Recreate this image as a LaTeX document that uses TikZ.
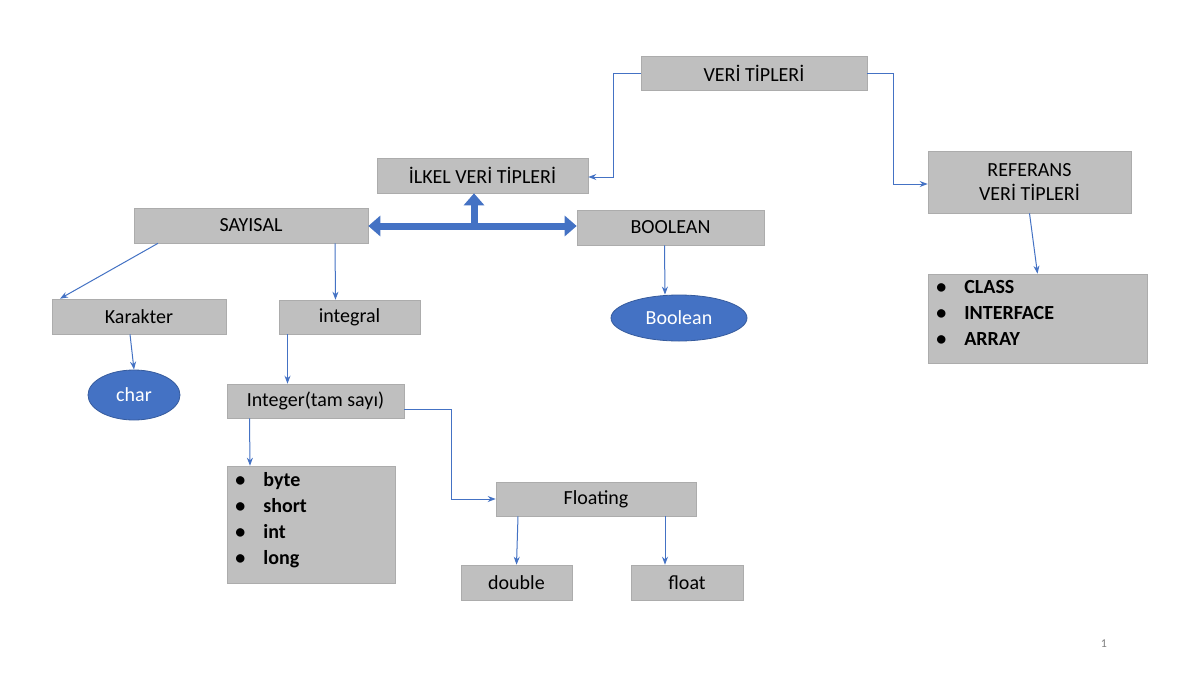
\documentclass[tikz,border=0pt]{standalone}
\usepackage{fontspec}
\setmainfont{Carlito}
\usetikzlibrary{arrows.meta,shapes.geometric}
\definecolor{bx}{HTML}{BFBFBF}
\definecolor{bl}{HTML}{4472C4}
\begin{document}
\begin{tikzpicture}[x=0.5pt,y=-0.5pt,
 box/.style={fill=bx,draw=bx!90!black,line width=0.3pt,inner sep=0pt,font=\fontsize{10}{12}\selectfont,align=center},
 ell/.style={ellipse,fill=bl,draw=bl!80!black,inner sep=0pt,text=white,font=\fontsize{10}{12}\selectfont},
 con/.style={draw=bl,line width=0.5pt,-{Stealth[length=4pt,width=3pt]}},
 lst/.style={font=\fontsize{10}{13}\selectfont\bfseries,align=left,anchor=north west,inner sep=0pt}]
\useasboundingbox (0,0) rectangle (1200,675);
\fill[white] (0,0) rectangle (1200,675);
\newcommand{\bx}[5]{\node[box,minimum width=#3*0.5pt,minimum height=#4*0.5pt] (#1) at (#2) {#5};}
\bx{veri}{754,73}{226}{34}{VERİ TİPLERİ}
\bx{ilkel}{482.5,175.5}{211}{35}{İLKEL VERİ TİPLERİ}
\bx{ref}{1029.5,182}{203}{62}{REFERANS\\VERİ TİPLERİ}
\bx{say}{251,225.5}{234}{35}{SAYISAL}
\bx{bool}{670.5,227.5}{187}{35}{BOOLEAN}
\bx{kar}{139,316.5}{174}{35}{Karakter}
\bx{intg}{349.5,317}{141}{34}{integral}
\bx{integer}{315.5,401}{177}{34}{Integer(tam sayı)}
\bx{blist}{311,524.5}{168}{117}{}
\bx{flo}{596,499}{200}{34}{Floating}
\bx{dbl}{516.5,582.5}{111}{35}{double}
\bx{flt}{687,582.5}{112}{35}{float}
\bx{clist}{1037.5,318.5}{219}{89}{}
\node[lst] (bt) at (235,472) {\textbullet\hspace{9pt}byte\\\textbullet\hspace{9pt}short\\\textbullet\hspace{9pt}int\\\textbullet\hspace{9pt}long};
\node[lst] (ct) at (936,280) {\textbullet\hspace{9pt}CLASS\\\textbullet\hspace{9pt}INTERFACE\\\textbullet\hspace{9pt}ARRAY};
\node[ell,minimum width=136*0.5pt,minimum height=46*0.5pt] (boo) at (679,318) {Boolean};
\node[ell,minimum width=92*0.5pt,minimum height=50*0.5pt] (chr) at (134,395) {char};
\node[font=\fontsize{6}{7}\selectfont,text=gray] (pg) at (1104,644) {1};
\coordinate (a1) at (613,73); \coordinate (a2) at (613,177);
\draw[con] (veri.west) -- (a1) -- (a2) -- (ilkel.east|-a2);
\coordinate (b1) at (893,73); \coordinate (b2) at (893,184);
\draw[con] (veri.east) -- (b1) -- (b2) -- (ref.west|-b2);
\draw[con] (ref.south) -- (clist.north);
\draw[con] ([xshift=-93*0.5pt]say.south) -- ([xshift=-79*0.5pt]kar.north);
\draw[con] ([xshift=84*0.5pt]say.south) -- ([xshift=-14*0.5pt]intg.north);
\draw[con] ([xshift=-6*0.5pt]bool.south) -- ([xshift=-14*0.5pt]boo.north);
\draw[con] ([xshift=-9*0.5pt]kar.south) -- (chr.north);
\draw[con] ([xshift=-62*0.5pt]intg.south) -- ([xshift=-28*0.5pt]integer.north);
\draw[con] ([xshift=-66*0.5pt]integer.south) -- ([xshift=-61*0.5pt]blist.north);
\coordinate (c1) at (451,409); \coordinate (c2) at (451,499);
\draw[con] (integer.east|-c1) -- (c1) -- (c2) -- (flo.west);
\draw[con] ([xshift=-78*0.5pt]flo.south) -- (dbl.north);
\draw[con] ([xshift=69*0.5pt]flo.south) -- ([xshift=-22*0.5pt]flt.north);
\coordinate (m) at (474,226);
\draw[bl,line width=3.5pt,{Triangle[length=6pt,width=10pt]}-{Triangle[length=6pt,width=10pt]}] (say.east|-m) -- (bool.west|-m);
\draw[bl,line width=3.5pt,-{Triangle[length=6pt,width=10pt]}] (m) -- (ilkel.south-|m);
\end{tikzpicture}
\end{document}
